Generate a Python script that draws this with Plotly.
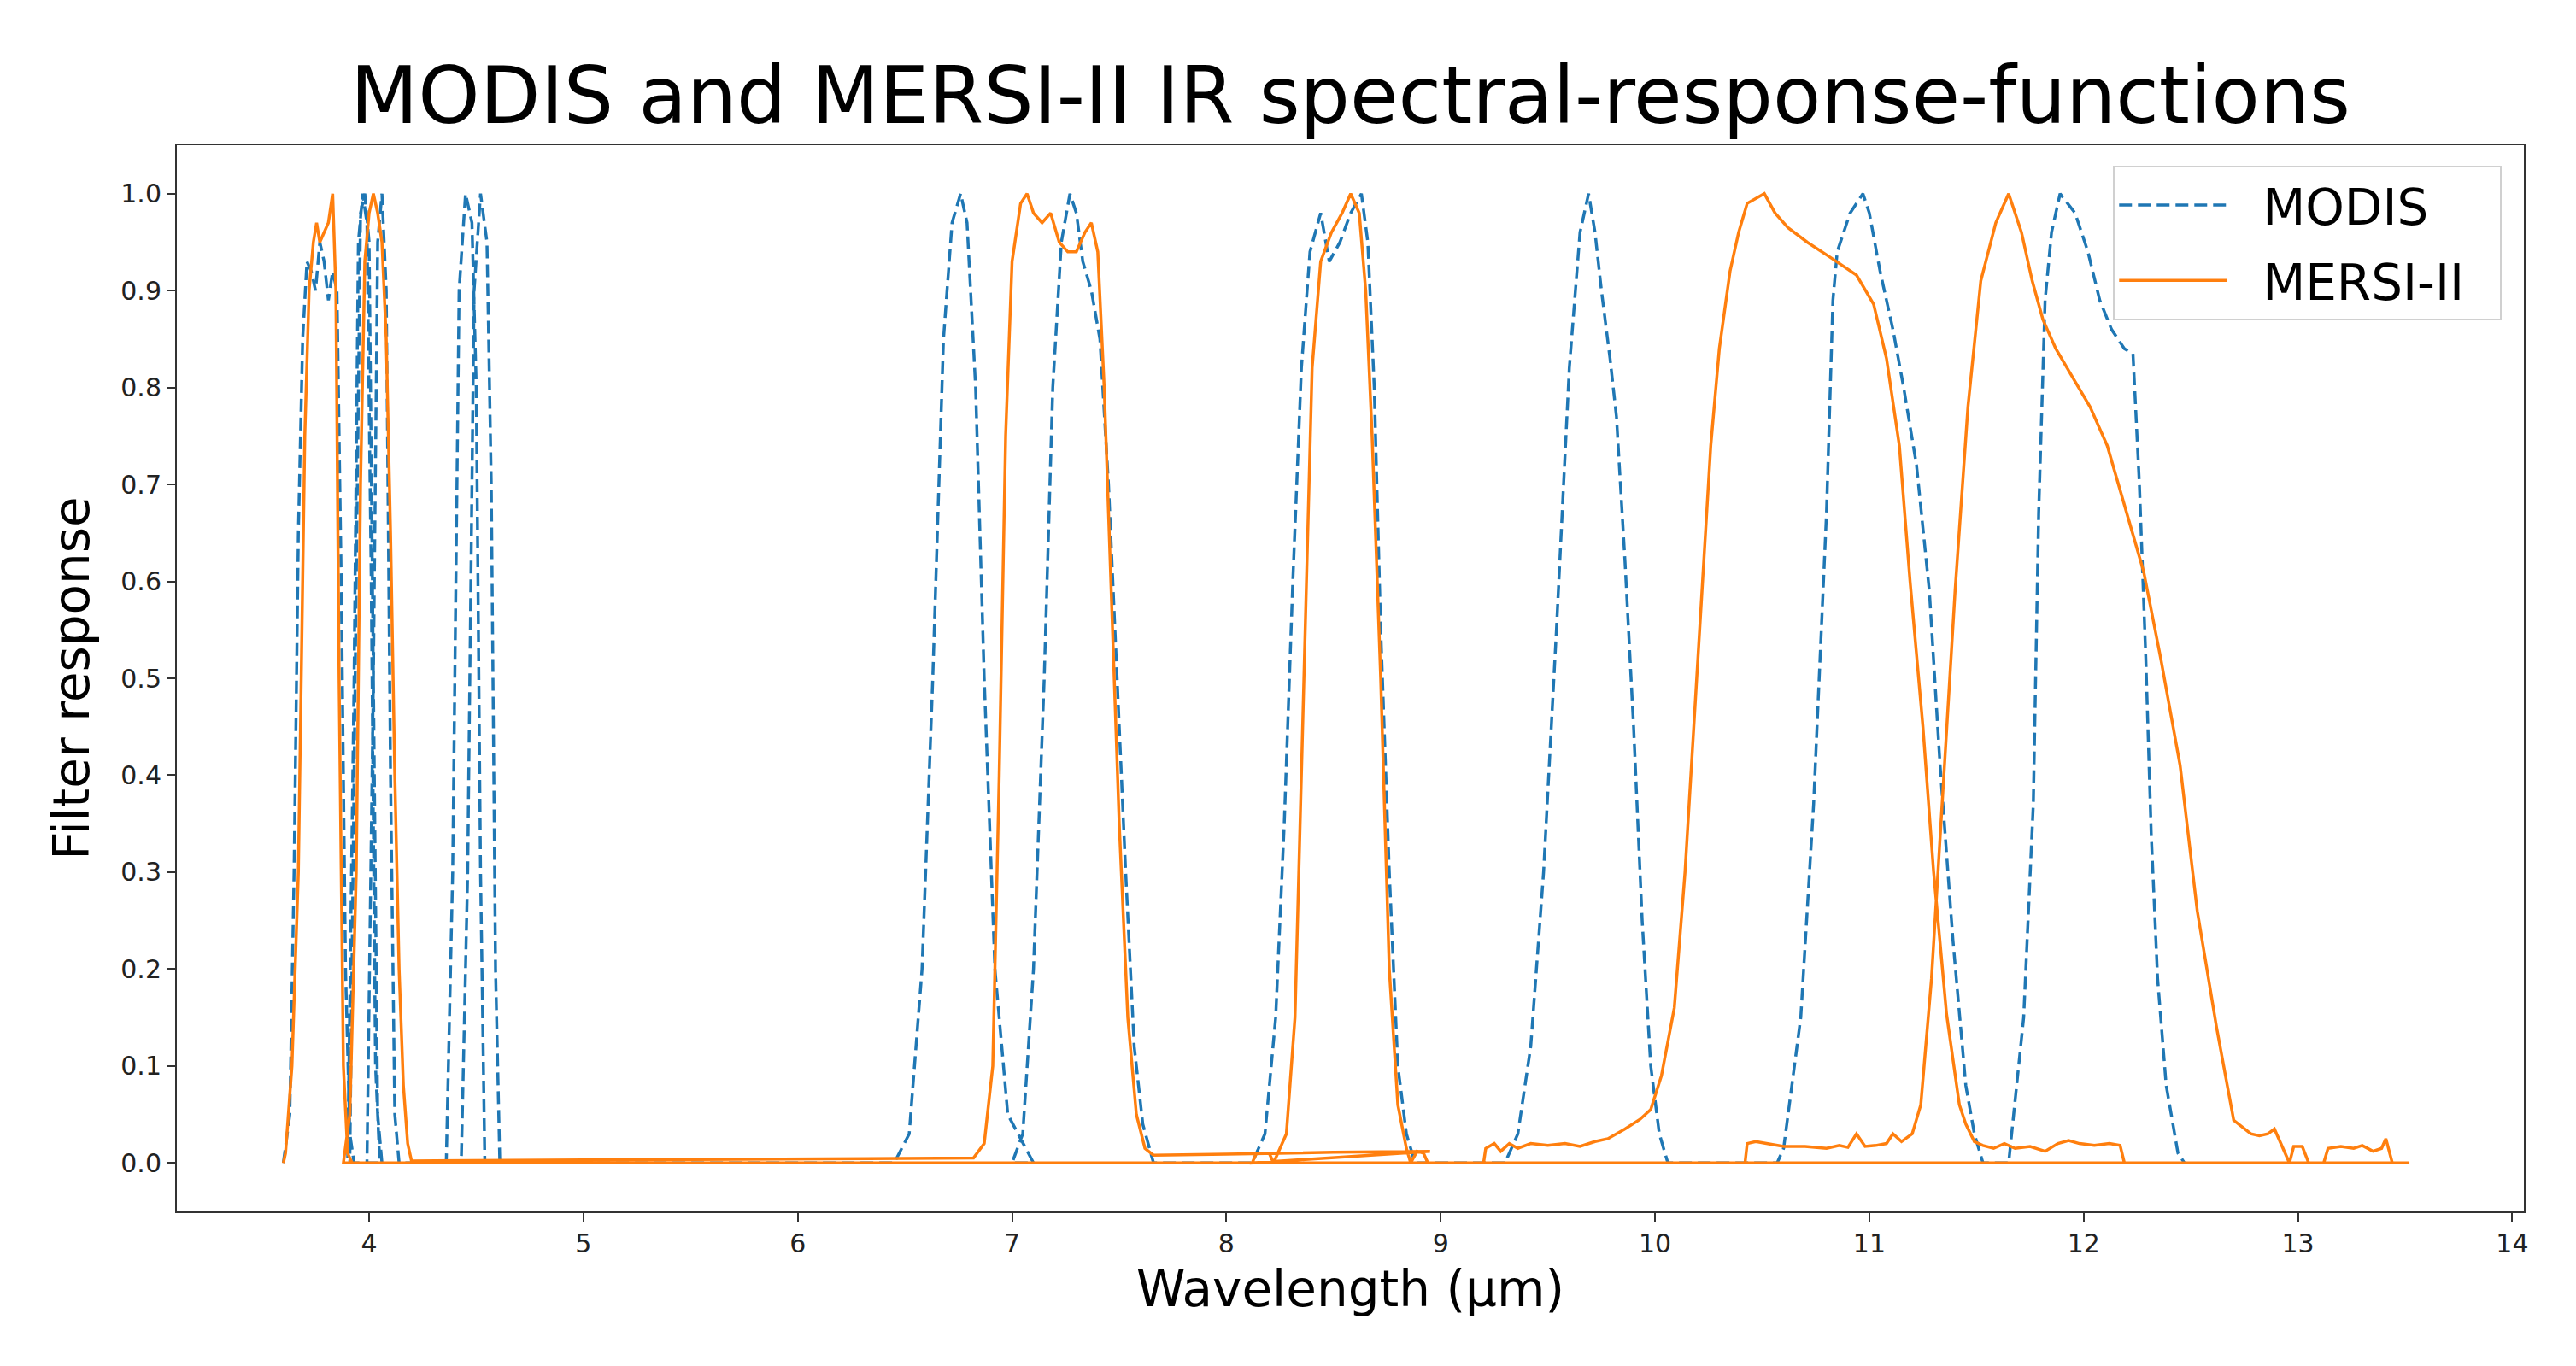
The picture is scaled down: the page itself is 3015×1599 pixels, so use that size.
import plotly.graph_objects as go

# MODIS IR bands (wavelength in um, normalised response)
modis_b20_wl = [3.60, 3.63, 3.65, 3.67, 3.69, 3.71, 3.73, 3.75, 3.77, 3.79, 3.81, 3.83, 3.85, 3.87, 3.89, 3.91, 3.93]
modis_b20_rsr = [0, 0.05, 0.3, 0.65, 0.85, 0.93, 0.92, 0.9, 0.95, 0.93, 0.89, 0.92, 0.9, 0.6, 0.2, 0.03, 0]
modis_b21_wl = [3.90, 3.93, 3.95, 3.97, 3.99, 4.01, 4.03, 4.05]
modis_b21_rsr = [0, 0.5, 0.95, 1.0, 0.97, 0.6, 0.1, 0]
modis_b22_wl = [3.91, 3.94, 3.96, 3.98, 4.00, 4.02, 4.04, 4.06]
modis_b22_rsr = [0, 0.6, 0.98, 1.0, 0.95, 0.5, 0.05, 0]
modis_b23_wl = [3.99, 4.02, 4.04, 4.06, 4.08, 4.10, 4.12, 4.14]
modis_b23_rsr = [0, 0.5, 0.95, 1.0, 0.9, 0.4, 0.05, 0]
modis_b24_wl = [4.36, 4.39, 4.42, 4.45, 4.48, 4.50, 4.52, 4.54]
modis_b24_rsr = [0, 0.3, 0.9, 1.0, 0.97, 0.8, 0.3, 0]
modis_b25_wl = [4.43, 4.46, 4.49, 4.52, 4.55, 4.57, 4.59, 4.61]
modis_b25_rsr = [0, 0.3, 0.9, 1.0, 0.95, 0.7, 0.2, 0]
modis_b27_wl = [6.45, 6.52, 6.58, 6.63, 6.68, 6.72, 6.76, 6.79, 6.83, 6.87, 6.92, 6.98, 7.05, 7.10]
modis_b27_rsr = [0, 0.03, 0.2, 0.5, 0.85, 0.97, 1.0, 0.97, 0.8, 0.5, 0.2, 0.05, 0.02, 0]
modis_b28_wl = [7.00, 7.05, 7.10, 7.15, 7.19, 7.23, 7.27, 7.30, 7.33, 7.37, 7.41, 7.45, 7.49, 7.53, 7.57, 7.61, 7.66]
modis_b28_rsr = [0, 0.03, 0.2, 0.5, 0.8, 0.95, 1.0, 0.98, 0.93, 0.9, 0.85, 0.7, 0.5, 0.3, 0.12, 0.04, 0]
modis_b29_wl = [8.12, 8.18, 8.23, 8.27, 8.31, 8.35, 8.39, 8.44, 8.48, 8.53, 8.58, 8.63, 8.66, 8.69, 8.72, 8.76, 8.80, 8.84, 8.88]
modis_b29_rsr = [0, 0.03, 0.15, 0.35, 0.6, 0.82, 0.94, 0.98, 0.93, 0.95, 0.98, 1.0, 0.95, 0.8, 0.55, 0.3, 0.1, 0.03, 0]
modis_b30_wl = [9.30, 9.36, 9.42, 9.48, 9.54, 9.60, 9.65, 9.69, 9.72, 9.75, 9.79, 9.82, 9.86, 9.90, 9.94, 9.98, 10.02, 10.06]
modis_b30_rsr = [0, 0.03, 0.12, 0.3, 0.55, 0.82, 0.96, 1.0, 0.96, 0.9, 0.83, 0.77, 0.62, 0.45, 0.25, 0.1, 0.03, 0]
modis_b31_wl = [10.57, 10.60, 10.68, 10.74, 10.80, 10.83, 10.85, 10.91, 10.97, 11.00, 11.05, 11.11, 11.16, 11.22, 11.28, 11.33, 11.39, 11.45, 11.49, 11.53]
modis_b31_rsr = [0, 0.015, 0.15, 0.37, 0.67, 0.89, 0.94, 0.98, 1.0, 0.98, 0.92, 0.86, 0.8, 0.72, 0.59, 0.41, 0.23, 0.08, 0.03, 0]
modis_b32_wl = [11.65, 11.72, 11.765, 11.79, 11.82, 11.85, 11.89, 11.96, 12.02, 12.075, 12.13, 12.19, 12.23, 12.26, 12.29, 12.315, 12.345, 12.385, 12.44, 12.47]
modis_b32_rsr = [0, 0.15, 0.37, 0.67, 0.89, 0.96, 1.0, 0.98, 0.94, 0.89, 0.86, 0.84, 0.835, 0.7, 0.52, 0.34, 0.19, 0.08, 0.01, 0]

# MERSI-II IR bands
mersi_b20_wl = [3.60, 3.61, 3.64, 3.67, 3.70, 3.72, 3.74, 3.755, 3.77, 3.79, 3.81, 3.83, 3.845, 3.86, 3.88, 3.90, 3.92, 13.52]
mersi_b20_rsr = [0, 0.01, 0.1, 0.3, 0.75, 0.9, 0.95, 0.97, 0.95, 0.96, 0.97, 1.0, 0.9, 0.5, 0.1, 0.01, 0, 0]
mersi_b21_wl = [3.88, 3.91, 3.94, 3.96, 3.98, 4.00, 4.02, 4.04, 4.06, 4.08, 4.10, 4.12, 4.14, 4.16, 4.18, 4.20]
mersi_b21_rsr = [0, 0.05, 0.3, 0.7, 0.93, 0.98, 1.0, 0.98, 0.95, 0.85, 0.65, 0.4, 0.2, 0.08, 0.02, 0]
mersi_b22_wl = [4.20, 5.00, 6.00, 6.82, 6.87, 6.91, 6.94, 6.97, 7.00, 7.04, 7.07, 7.10, 7.14, 7.18, 7.22, 7.26,
                7.30, 7.34, 7.37, 7.40, 7.43, 7.46, 7.50, 7.54, 7.58, 7.62, 7.66, 8.00, 8.50, 8.95]
mersi_b22_rsr = [0.002, 0.003, 0.004, 0.005, 0.02, 0.1, 0.4, 0.75, 0.93, 0.99, 1.0, 0.98, 0.97, 0.98, 0.95, 0.94,
                 0.94, 0.96, 0.97, 0.94, 0.8, 0.6, 0.35, 0.15, 0.05, 0.015, 0.008, 0.009, 0.011, 0.012]
mersi_b23_wl = [8.12, 8.14, 8.20, 8.22, 8.24, 8.28, 8.32, 8.36, 8.40, 8.44, 8.49, 8.54, 8.58, 8.62, 8.65, 8.68,
                8.72, 8.76, 8.80, 8.84, 8.86, 8.89, 8.92, 8.94]
mersi_b23_rsr = [0, 0.01, 0.01, 0, 0.01, 0.03, 0.15, 0.5, 0.82, 0.93, 0.96, 0.98, 1.0, 0.98, 0.9, 0.75,
                 0.5, 0.2, 0.06, 0.015, 0, 0.012, 0.01, 0]
mersi_b24_wl = [9.20, 9.21, 9.25, 9.28, 9.32, 9.36, 9.42, 9.50, 9.58, 9.65, 9.72, 9.78, 9.86, 9.93, 9.98, 10.03,
                10.09, 10.14, 10.18, 10.22, 10.26, 10.30, 10.35, 10.39, 10.43, 10.51, 10.56, 10.62, 10.71, 10.82,
                10.94, 11.02, 11.08, 11.14, 11.19, 11.25, 11.30, 11.36, 11.42, 11.45, 11.49, 11.53, 11.58, 11.63,
                11.68, 11.75, 11.82, 11.88, 11.93, 11.98, 12.05, 12.12, 12.17, 12.19]
mersi_b24_rsr = [0, 0.015, 0.02, 0.012, 0.02, 0.015, 0.02, 0.018, 0.02, 0.017, 0.022, 0.025, 0.035, 0.045, 0.055, 0.09,
                 0.16, 0.3, 0.45, 0.6, 0.74, 0.84, 0.92, 0.96, 0.99, 1.0, 0.98, 0.965, 0.95, 0.934,
                 0.916, 0.886, 0.83, 0.74, 0.6, 0.45, 0.3, 0.154, 0.06, 0.04, 0.022, 0.018, 0.015, 0.02,
                 0.015, 0.017, 0.012, 0.02, 0.023, 0.02, 0.018, 0.02, 0.018, 0]
mersi_b25_wl = [10.42, 10.43, 10.47, 10.52, 10.60, 10.70, 10.80, 10.86, 10.90, 10.94, 10.98, 11.03, 11.08, 11.11,
                11.15, 11.20, 11.24, 11.29, 11.34, 11.40, 11.46, 11.52, 11.59, 11.65, 11.71, 11.76, 11.81, 11.87,
                11.95, 12.03, 12.11, 12.19, 12.28, 12.36, 12.45, 12.53, 12.62, 12.70, 12.78, 12.82, 12.86, 12.89,
                12.92, 12.94, 12.96, 12.98, 13.02, 13.05, 13.12, 13.14, 13.20, 13.26, 13.30, 13.35, 13.39, 13.41,
                13.44, 13.50]
mersi_b25_rsr = [0, 0.02, 0.022, 0.02, 0.017, 0.017, 0.015, 0.018, 0.016, 0.03, 0.017, 0.018, 0.02, 0.03,
                 0.022, 0.03, 0.06, 0.19, 0.37, 0.59, 0.78, 0.91, 0.97, 1.0, 0.96, 0.91, 0.87, 0.84,
                 0.81, 0.78, 0.74, 0.68, 0.61, 0.52, 0.41, 0.26, 0.14, 0.044, 0.03, 0.028, 0.03, 0.035,
                 0.02, 0.01, 0.0, 0.017, 0.017, 0.0, 0.0, 0.015, 0.017, 0.015, 0.018, 0.012, 0.015, 0.025,
                 0.0, 0.0]

x_ticks = [4, 5, 6, 7, 8, 9, 10, 11, 12, 13, 14]
y_ticks = [0.0, 0.1, 0.2, 0.3, 0.4, 0.5, 0.6, 0.7, 0.8, 0.9, 1.0]

modis_bands = [(modis_b20_wl, modis_b20_rsr), (modis_b21_wl, modis_b21_rsr), (modis_b22_wl, modis_b22_rsr),
               (modis_b23_wl, modis_b23_rsr), (modis_b24_wl, modis_b24_rsr), (modis_b25_wl, modis_b25_rsr),
               (modis_b27_wl, modis_b27_rsr), (modis_b28_wl, modis_b28_rsr), (modis_b29_wl, modis_b29_rsr),
               (modis_b30_wl, modis_b30_rsr), (modis_b31_wl, modis_b31_rsr), (modis_b32_wl, modis_b32_rsr)]
mersi_bands = [(mersi_b20_wl, mersi_b20_rsr), (mersi_b21_wl, mersi_b21_rsr), (mersi_b22_wl, mersi_b22_rsr),
               (mersi_b23_wl, mersi_b23_rsr), (mersi_b24_wl, mersi_b24_rsr), (mersi_b25_wl, mersi_b25_rsr)]

# bands are joined end to end, like one long array
modis_x = [v for wl, _ in modis_bands for v in wl]
modis_y = [v for _, r in modis_bands for v in r]
mersi_x = [v for wl, _ in mersi_bands for v in wl]
mersi_y = [v for _, r in mersi_bands for v in r]

font = "DejaVu Sans"
pad = '\u00a0\u00a0'  # a little room around the legend labels

fig = go.Figure()
fig.add_trace(go.Scatter(x=modis_x, y=modis_y, mode='lines', name=pad + 'MODIS', legendgroup='modis',
                         line=dict(color='#1f77b4', width=3.5, dash='15px,7px')))
fig.add_trace(go.Scatter(x=mersi_x, y=mersi_y, mode='lines', name=pad + 'MERSI-II' + pad, legendgroup='mersi',
                         line=dict(color='#ff7f0e', width=3.5)))

axis_style = dict(showline=True, mirror=True, linecolor='#333333', linewidth=2,
                  ticks='outside', ticklen=10, tickwidth=2, tickcolor='#333333',
                  showgrid=False, zeroline=False,
                  tickfont=dict(family=font, size=30, color='#222222'))

fig.update_layout(
    width=3015, height=1599,
    paper_bgcolor='white', plot_bgcolor='white',
    margin=dict(l=199, r=69, t=162, b=189),
    title=dict(text='MODIS and MERSI-II IR spectral-response-functions',
               font=dict(family=font, size=92, color='black'),
               x=0.5, xref='paper', xanchor='center', y=0.935, yref='container', yanchor='middle'),
    xaxis=dict(range=[3.103, 14.054], tickvals=x_ticks, ticktext=[str(t) for t in x_ticks],
               title=dict(text='Wavelength (µm)', font=dict(family=font, size=58, color='black'), standoff=16),
               **axis_style),
    yaxis=dict(range=[-0.05, 1.05], tickvals=y_ticks, ticktext=['%.1f' % t for t in y_ticks],
               title=dict(text='Filter response', font=dict(family=font, size=58, color='black'), standoff=18),
               **axis_style),
    legend=dict(x=0.825, y=0.981, xanchor='left', yanchor='top',
                bgcolor='rgba(255,255,255,0.8)', bordercolor='#d0d0d0', borderwidth=2,
                font=dict(family=font, size=58, color='black'), itemwidth=126,
                tracegroupgap=10),
    showlegend=True,
)

fig.write_html("out.html")
